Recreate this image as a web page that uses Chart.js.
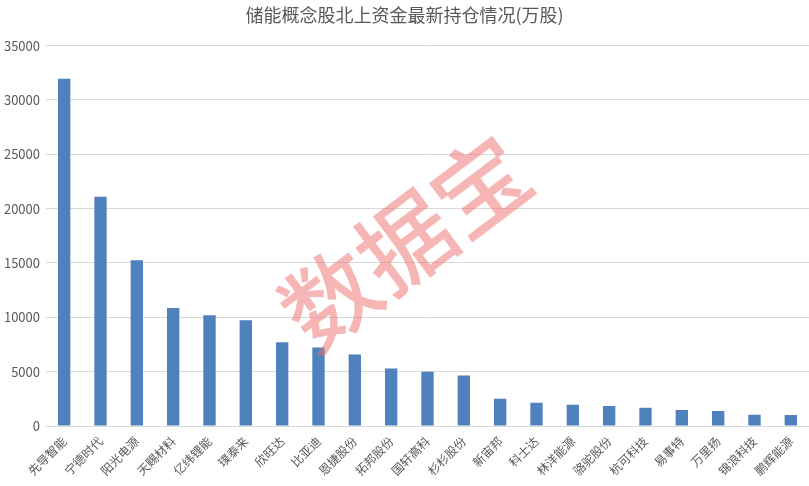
<!DOCTYPE html>
<html>
<head>
<meta charset="utf-8">
<script src="https://cdn.jsdelivr.net/npm/chart.js@4/dist/chart.umd.min.js"></script>
<style>
  html, body { margin: 0; padding: 0; background: #ffffff; }
  #wrap { width: 809px; height: 486px; position: relative; }
</style>
</head>
<body>
<div id="wrap"><canvas id="holdingChart"></canvas></div>
<script>
// stock names (x axis)
const stockNames = [
  "先导智能", "宁德时代", "阳光电源", "天赐材料", "亿纬锂能", "璞泰来", "欣旺达",
  "比亚迪", "恩捷股份", "拓邦股份", "国轩高科", "杉杉股份", "新宙邦", "科士达",
  "林洋能源", "骆驼股份", "杭可科技", "易事特", "万里扬", "锦浪科技", "鹏辉能源"
];

// latest northbound holdings, 10k shares
const holdings = [
  31950, 21100, 15250, 10850, 10180, 9720, 7700,
  7230, 6580, 5280, 5000, 4640, 2500, 2130,
  1950, 1850, 1670, 1480, 1390, 1030, 1020
];

// y axis ticks
const yTicks = [0, 5000, 10000, 15000, 20000, 25000, 30000, 35000];

const titleText = "储能概念股北上资金最新持仓情况(万股)";
const watermarkText = "数据宝";

const color = {
  bar: "#4f81bd",
  grid: "#d9d9d9",
  text: "#595959",
  watermark: "rgba(240, 110, 110, 0.5)"
};

const fontFamily = "'Noto Sans CJK SC', 'Noto Sans', sans-serif";

/**
 * draw the pink watermark over the plot
 */
const watermarkPlugin = {
  id: "watermark",
  afterDatasetsDraw(chart) {
    const ctx = chart.ctx;
    ctx.save();
    ctx.translate(405, 242);
    ctx.rotate(-37 * Math.PI / 180);
    ctx.font = "500 94px " + fontFamily;
    ctx.fillStyle = color.watermark;
    ctx.textAlign = "center";
    ctx.textBaseline = "middle";
    ctx.fillText(watermarkText, 0, 0);
    ctx.restore();
  }
};

const ctx = document.getElementById("holdingChart").getContext("2d");
new Chart(ctx, {
  type: "bar",
  data: {
    labels: stockNames,
    datasets: [
      {
        label: "持仓",
        data: holdings,
        backgroundColor: color.bar,
        categoryPercentage: 1,
        barPercentage: 0.34
      }
    ]
  },
  options: {
    responsive: true,
    maintainAspectRatio: false,
    animation: false,
    plugins: {
      legend: { display: false },
      tooltip: { enabled: false },
      title: {
        display: true,
        text: titleText,
        color: color.text,
        font: { family: fontFamily, size: 18, weight: "normal" },
        padding: { top: 4, bottom: 20 }
      }
    },
    scales: {
      x: {
        grid: { display: false, drawTicks: false },
        border: { color: color.grid, width: 1 },
        ticks: {
          color: color.text,
          font: { family: fontFamily, size: 12 },
          maxRotation: 45,
          minRotation: 45,
          autoSkip: false,
          padding: 8
        },
        afterFit(scale) { scale.height = 60; }
      },
      y: {
        min: 0,
        max: 35000,
        afterBuildTicks(scale) {
          scale.ticks = yTicks.map(v => ({ value: v }));
        },
        grid: { color: color.grid, drawTicks: false },
        border: { display: false },
        ticks: {
          color: color.text,
          font: { family: fontFamily, size: 13 },
          padding: 6,
          // plain numbers, no thousands separator
          callback: value => String(value)
        },
        afterFit(scale) { scale.width = 46; }
      }
    }
  },
  plugins: [watermarkPlugin]
});
</script>
</body>
</html>
